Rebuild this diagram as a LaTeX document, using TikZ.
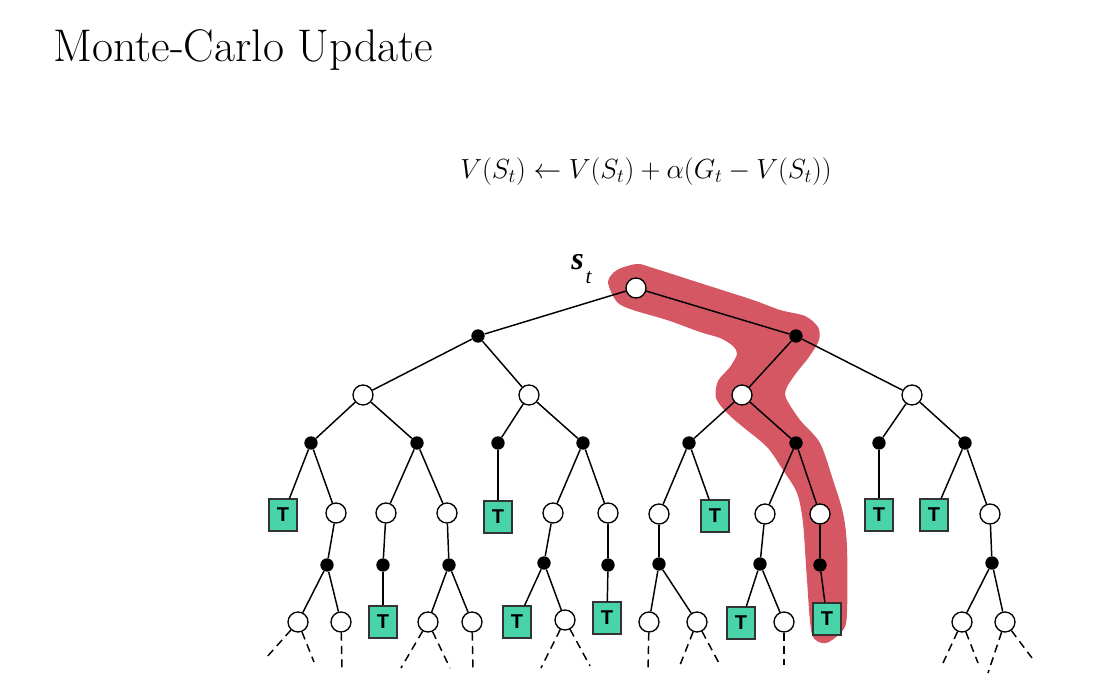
\documentclass[tikz,border=0pt]{standalone}
\usepackage{fontspec}
\usepackage{amsmath}
\newfontfamily\tfont{Liberation Sans}
\newfontfamily\lserif{Liberation Serif}
\definecolor{tgreen}{RGB}{72,212,168}
\definecolor{hred}{RGB}{212,87,99}
\tikzset{
  st/.style={circle,draw=black,fill=white,line width=1pt,minimum size=15pt,inner sep=0pt},
  act/.style={circle,fill=black,minimum size=10pt,inner sep=0pt},
  term/.style={rectangle,draw=black!80,fill=tgreen,line width=0.9pt,minimum width=21pt,minimum height=24pt,inner sep=0pt,font=\tfont\bfseries\fontsize{15}{15}\selectfont},
  edge/.style={line width=1.1pt,black},
  dedge/.style={line width=1.1pt,black,dash pattern=on 6pt off 4pt},
}
\begin{document}
\begin{tikzpicture}[x=0.75pt,y=-0.75pt]
\useasboundingbox (0,0) rectangle (1110,682);
% title and formula
\node[anchor=base west,inner sep=0pt,font=\fontsize{34.3}{40}\selectfont] (title) at (53,61) {Monte-Carlo Update};
\node[anchor=base,inner sep=0pt,font=\fontsize{22}{26}\selectfont] (formula) at (646,178) {$V(S_t) \leftarrow V(S_t) + \alpha(G_t - V(S_t))$};
% highlight
\fill[hred] plot[smooth cycle,tension=0.5] coordinates {
 (608,282) (617,270) (637,264) (653,268) (700,283) (753,300) (780,310) (805,316) (818,327) (819,340) (809,357) (797,372) (787,387) (786,398)
 (800,420) (820,443) (833,480) (843,513) (847,547) (847,613) (843,630) (826,643) (812,634)
 (807,580) (803,523) (797,493) (783,470) (767,447) (743,427) (727,413) (716,398) (718,381) (730,367) (737,354) (733,346) (720,338) (700,332) (667,320) (633,310) (617,302) };
% label
\node[anchor=base west,inner sep=0pt] (stlabel) at (571,269) {\lserif\fontsize{24}{26}\selectfont\bfseries\itshape s\kern1.5pt\raisebox{-10.5pt}{\mdseries\fontsize{16}{18}\selectfont t}};
% nodes
\node[st] (r) at (636,288) {};
\node[act] (a1) at (478,336) {};
\node[act] (a2) at (796,336) {};
\node[st] (s1) at (363,395) {};
\node[st] (s2) at (529,395) {};
\node[st] (s3) at (742,395) {};
\node[st] (s4) at (912,395) {};
\node[act] (b1) at (311,443) {};
\node[act] (b2) at (417,443) {};
\node[act] (b3) at (498,443) {};
\node[act] (b4) at (583,443) {};
\node[act] (b5) at (689,443) {};
\node[act] (b6) at (796,443) {};
\node[act] (b7) at (879,443) {};
\node[act] (b8) at (965,443) {};
\node[term] (t1) at (283,515) {T};
\node[st] (u1) at (336,513) {};
\node[st] (u2) at (386,513) {};
\node[st] (u3) at (447,513) {};
\node[term] (t2) at (498,517) {T};
\node[st] (u4) at (553,513) {};
\node[st] (u5) at (608,513) {};
\node[st] (u6) at (659,514) {};
\node[term] (t3) at (715,516) {T};
\node[st] (u7) at (765,514) {};
\node[st] (u8) at (820,514) {};
\node[term] (t4) at (879,515) {T};
\node[term] (t5) at (934,515) {T};
\node[st] (u9) at (990,514) {};
\node[act] (c1) at (327,565) {};
\node[act] (c2) at (383,565) {};
\node[act] (c3) at (449,565) {};
\node[act] (c4) at (544,563) {};
\node[act] (c5) at (608,565) {};
\node[act] (c6) at (659,564) {};
\node[act] (c7) at (760,564) {};
\node[act] (c8) at (820,565) {};
\node[act] (c9) at (992,563) {};
\node[st] (v1) at (298,622) {};
\node[st] (v2) at (341,622) {};
\node[term] (t6) at (383,622) {T};
\node[st] (v3) at (428,622) {};
\node[st] (v4) at (472,622) {};
\node[term] (t7) at (517,622) {T};
\node[st] (v5) at (565,620) {};
\node[term] (t8) at (607,618) {T};
\node[st] (v6) at (649,622) {};
\node[st] (v7) at (697,622) {};
\node[term] (t9) at (741,623) {T};
\node[st] (v8) at (784,622) {};
\node[term] (t10) at (827,619) {T};
\node[st] (v9) at (962,622) {};
\node[st] (v10) at (1005,622) {};
% dashed ends
\coordinate (e1) at (266,658); \coordinate (e2) at (314,662);
\coordinate (e3) at (342,668);
\coordinate (e4) at (401,668); \coordinate (e5) at (450,668);
\coordinate (e6) at (473,672);
\coordinate (e7) at (541,668); \coordinate (e8) at (590,666);
\coordinate (e9) at (648,672);
\coordinate (e10) at (680,665); \coordinate (e11) at (720,665);
\coordinate (e12) at (784,665);
\coordinate (e13) at (943,663); \coordinate (e14) at (978,663);
\coordinate (e15) at (988,673); \coordinate (e16) at (1032,658);
% edges
\draw[edge] (r)--(a1); \draw[edge] (r)--(a2);
\draw[edge] (a1)--(s1); \draw[edge] (a1)--(s2);
\draw[edge] (a2)--(s3); \draw[edge] (a2)--(s4);
\draw[edge] (s1)--(b1); \draw[edge] (s1)--(b2);
\draw[edge] (s2)--(b3); \draw[edge] (s2)--(b4);
\draw[edge] (s3)--(b5); \draw[edge] (s3)--(b6);
\draw[edge] (s4)--(b7); \draw[edge] (s4)--(b8);
\draw[edge] (b1)--(t1); \draw[edge] (b1)--(u1);
\draw[edge] (b2)--(u2); \draw[edge] (b2)--(u3);
\draw[edge] (b3)--(t2);
\draw[edge] (b4)--(u4); \draw[edge] (b4)--(u5);
\draw[edge] (b5)--(u6); \draw[edge] (b5)--(t3);
\draw[edge] (b6)--(u7); \draw[edge] (b6)--(u8);
\draw[edge] (b7)--(t4);
\draw[edge] (b8)--(t5); \draw[edge] (b8)--(u9);
\draw[edge] (u1)--(c1); \draw[edge] (u2)--(c2); \draw[edge] (u3)--(c3);
\draw[edge] (u4)--(c4); \draw[edge] (u5)--(c5); \draw[edge] (u6)--(c6);
\draw[edge] (u7)--(c7); \draw[edge] (u8)--(c8); \draw[edge] (u9)--(c9);
\draw[edge] (c1)--(v1); \draw[edge] (c1)--(v2);
\draw[edge] (c2)--(t6);
\draw[edge] (c3)--(v3); \draw[edge] (c3)--(v4);
\draw[edge] (c4)--(t7); \draw[edge] (c4)--(v5);
\draw[edge] (c5)--(t8);
\draw[edge] (c6)--(v6); \draw[edge] (c6)--(v7);
\draw[edge] (c7)--(t9); \draw[edge] (c7)--(v8);
\draw[edge] (c8)--(t10);
\draw[edge] (c9)--(v9); \draw[edge] (c9)--(v10);
\draw[dedge] (v1)--(e1); \draw[dedge] (v1)--(e2);
\draw[dedge] (v2)--(e3);
\draw[dedge] (v3)--(e4); \draw[dedge] (v3)--(e5);
\draw[dedge] (v4)--(e6);
\draw[dedge] (v5)--(e7); \draw[dedge] (v5)--(e8);
\draw[dedge] (v6)--(e9);
\draw[dedge] (v7)--(e10); \draw[dedge] (v7)--(e11);
\draw[dedge] (v8)--(e12);
\draw[dedge] (v9)--(e13); \draw[dedge] (v9)--(e14);
\draw[dedge] (v10)--(e15); \draw[dedge] (v10)--(e16);
\end{tikzpicture}
\end{document}
